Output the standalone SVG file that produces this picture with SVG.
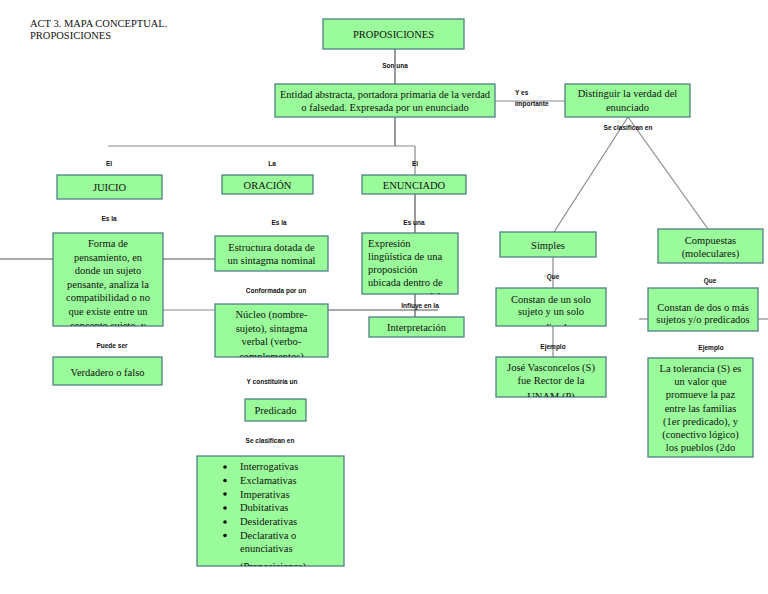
<svg xmlns="http://www.w3.org/2000/svg" width="768" height="594" viewBox="0 0 768 594">
<style>
.b{fill:#99fb99;stroke:#4d8088;stroke-width:1.3}
.t{font-family:"Liberation Serif","Times New Roman",serif;font-size:10.5px;fill:#111}
.c{text-anchor:middle}
.l{font-family:"Liberation Sans",Arial,sans-serif;font-size:6.5px;font-weight:bold;fill:#111}
.k{stroke:#555;stroke-width:1.2;fill:none}
.g{stroke:#8a8a8a;stroke-width:1.2;fill:none}
</style>
<defs>
<clipPath id="cForma"><rect x="53" y="233" width="110" height="93"/></clipPath>
<clipPath id="cNucleo"><rect x="215" y="304" width="113" height="53"/></clipPath>
<clipPath id="cExpr"><rect x="362" y="233" width="96" height="61"/></clipPath>
<clipPath id="cLista"><rect x="197" y="456" width="147" height="110"/></clipPath>
<clipPath id="cConst1"><rect x="496" y="288" width="110" height="38"/></clipPath>
<clipPath id="cJose"><rect x="496" y="357" width="110" height="40"/></clipPath>
</defs>
<rect width="768" height="594" fill="#fff"/>
<text class="t" x="30" y="27">ACT 3. MAPA CONCEPTUAL.</text>
<text class="t" x="30" y="39">PROPOSICIONES</text>

<g id="connectors">
<line class="k" x1="395" y1="49" x2="395" y2="84"/>
<line class="k" x1="395" y1="117" x2="395" y2="146"/>
<line class="g" x1="108" y1="146" x2="415" y2="146"/>
<line class="g" x1="415" y1="146" x2="415" y2="175"/>
<line class="k" x1="415" y1="194" x2="415" y2="233"/>
<line class="k" x1="415" y1="294" x2="415" y2="317"/>
<line class="g" x1="495" y1="101" x2="565" y2="101"/>
<line class="g" x1="628" y1="117" x2="554" y2="232"/>
<line class="g" x1="628" y1="117" x2="708" y2="229"/>
<line class="g" x1="553" y1="257" x2="553" y2="288"/>
<line class="g" x1="553" y1="326" x2="553" y2="357"/>
<line class="k" x1="0" y1="259" x2="53" y2="259"/>
<line class="k" x1="163" y1="259" x2="215" y2="259"/>
<line class="g" x1="163" y1="310" x2="215" y2="310"/>
<line class="k" x1="328" y1="310" x2="438" y2="310"/>
<line class="g" x1="639" y1="319" x2="648" y2="319"/>
<line class="g" x1="758" y1="319" x2="768" y2="319"/>
</g>

<g id="labels">
<text class="l c" x="395" y="68">Son una</text>
<text class="l" x="515" y="95">Y es</text>
<text class="l" x="515" y="106">importante</text>
<text class="l c" x="628" y="130">Se clasifican en</text>
<text class="l c" x="109" y="166">El</text>
<text class="l c" x="272" y="166">La</text>
<text class="l c" x="415" y="166">El</text>
<text class="l c" x="109" y="221">Es la</text>
<text class="l c" x="279" y="225">Es la</text>
<text class="l c" x="414" y="225">Es una</text>
<text class="l c" x="276" y="293">Conformada por un</text>
<text class="l c" x="420" y="308">Influye en la</text>
<text class="l c" x="553" y="279">Que</text>
<text class="l c" x="710" y="283">Que</text>
<text class="l c" x="553" y="349">Ejemplo</text>
<text class="l c" x="711" y="350">Ejemplo</text>
<text class="l c" x="112" y="348">Puede ser</text>
<text class="l c" x="272" y="384">Y constituiría un</text>
<text class="l c" x="270" y="443">Se clasifican en</text>
</g>

<g id="proposiciones">
<rect class="b" x="323" y="19" width="141" height="30"/>
<text class="t c" x="393.5" y="38">PROPOSICIONES</text>
</g>
<g id="entidad">
<rect class="b" x="275" y="84" width="220" height="33"/>
<text class="t c" x="385" y="98">Entidad abstracta, portadora primaria de la verdad</text>
<text class="t c" x="385" y="110.5">o falsedad. Expresada por un enunciado</text>
</g>
<g id="distinguir">
<rect class="b" x="565" y="84" width="125" height="33"/>
<text class="t c" x="627.5" y="97">Distinguir la verdad del</text>
<text class="t c" x="627.5" y="111">enunciado</text>
</g>
<g id="juicio">
<rect class="b" x="57" y="175" width="105" height="24"/>
<text class="t c" x="109.5" y="191">JUICIO</text>
</g>
<g id="oracion">
<rect class="b" x="222" y="175" width="91" height="19"/>
<text class="t c" x="267.5" y="189">ORACIÓN</text>
</g>
<g id="enunciado">
<rect class="b" x="362" y="175" width="104" height="19"/>
<text class="t c" x="414" y="189">ENUNCIADO</text>
</g>
<g id="forma">
<rect class="b" x="53" y="233" width="110" height="93"/>
<g clip-path="url(#cForma)">
<text class="t c" x="108" y="247">Forma de</text>
<text class="t c" x="108" y="260.5">pensamiento, en</text>
<text class="t c" x="108" y="274">donde un sujeto</text>
<text class="t c" x="108" y="287.5">pensante, analiza la</text>
<text class="t c" x="108" y="301">compatibilidad o no</text>
<text class="t c" x="108" y="314.5">que existe entre un</text>
<text class="t c" x="108" y="329">concepto sujeto, y</text>
</g>
</g>
<g id="estructura">
<rect class="b" x="215" y="236" width="113" height="35"/>
<text class="t c" x="271.5" y="251">Estructura dotada de</text>
<text class="t c" x="271.5" y="264">un sintagma nominal</text>
</g>
<g id="nucleo">
<rect class="b" x="215" y="304" width="113" height="53"/>
<g clip-path="url(#cNucleo)">
<text class="t c" x="271.5" y="318">Núcleo (nombre-</text>
<text class="t c" x="271.5" y="331.5">sujeto), sintagma</text>
<text class="t c" x="271.5" y="345">verbal (verbo-</text>
<text class="t c" x="271.5" y="359.5">complementos)</text>
</g>
</g>
<g id="expresion">
<rect class="b" x="362" y="233" width="96" height="61"/>
<g clip-path="url(#cExpr)">
<text class="t" x="368" y="247">Expresión</text>
<text class="t" x="368" y="260">lingüística de una</text>
<text class="t" x="368" y="273">proposición</text>
<text class="t" x="368" y="285.5">ubicada dentro de</text>
<text class="t" x="368" y="299.5">un contexto y del</text>
</g>
</g>
<g id="interpretacion">
<rect class="b" x="369" y="317" width="95" height="20"/>
<text class="t c" x="416.5" y="331">Interpretación</text>
</g>
<g id="verdadero">
<rect class="b" x="53" y="357" width="109" height="28"/>
<text class="t c" x="107.5" y="375.5">Verdadero o falso</text>
</g>
<g id="predicado">
<rect class="b" x="245" y="399" width="61" height="22"/>
<text class="t c" x="275.5" y="414">Predicado</text>
</g>
<g id="lista">
<rect class="b" x="197" y="456" width="147" height="110"/>
<g clip-path="url(#cLista)">
<g fill="#111">
<circle cx="225" cy="467" r="1.8"/>
<circle cx="225" cy="480.5" r="1.8"/>
<circle cx="225" cy="494" r="1.8"/>
<circle cx="225" cy="508" r="1.8"/>
<circle cx="225" cy="522" r="1.8"/>
<circle cx="225" cy="535.5" r="1.8"/>
</g>
<text class="t" x="240" y="470">Interrogativas</text>
<text class="t" x="240" y="484">Exclamativas</text>
<text class="t" x="240" y="497.5">Imperativas</text>
<text class="t" x="240" y="511">Dubitativas</text>
<text class="t" x="240" y="525">Desiderativas</text>
<text class="t" x="240" y="538.5">Declarativa o</text>
<text class="t" x="240" y="552">enunciativas</text>
<text class="t" x="240" y="570">(Proposiciones)</text>
</g>
</g>
<g id="simples">
<rect class="b" x="500" y="232" width="96" height="25"/>
<text class="t c" x="548" y="248.5">Simples</text>
</g>
<g id="compuestas">
<rect class="b" x="658" y="229" width="105" height="34"/>
<text class="t c" x="710.5" y="244">Compuestas</text>
<text class="t c" x="710.5" y="257">(moleculares)</text>
</g>
<g id="constan1">
<rect class="b" x="496" y="288" width="110" height="38"/>
<g clip-path="url(#cConst1)">
<text class="t c" x="551" y="302.5">Constan de un solo</text>
<text class="t c" x="551" y="314.5">sujeto y un solo</text>
<text class="t c" x="551" y="331">predicado</text>
</g>
</g>
<g id="constan2">
<rect class="b" x="648" y="288" width="110" height="43"/>
<text class="t c" x="703" y="310.5">Constan de dos o más</text>
<text class="t c" x="703" y="322.5">sujetos y/o predicados</text>
</g>
<g id="jose">
<rect class="b" x="496" y="357" width="110" height="40"/>
<g clip-path="url(#cJose)">
<text class="t c" x="551" y="371">José Vasconcelos (S)</text>
<text class="t c" x="551" y="384">fue Rector de la</text>
<text class="t c" x="551" y="400">UNAM (P)</text>
</g>
</g>
<g id="tolerancia">
<rect class="b" x="648" y="358" width="105" height="99"/>
<text class="t c" x="700.5" y="371.5">La tolerancia (S) es</text>
<text class="t c" x="700.5" y="385">un valor que</text>
<text class="t c" x="700.5" y="398">promueve la paz</text>
<text class="t c" x="700.5" y="411.5">entre las familias</text>
<text class="t c" x="700.5" y="425">(1er predicado), y</text>
<text class="t c" x="700.5" y="437.5">(conectivo lógico)</text>
<text class="t c" x="700.5" y="450.5">los pueblos (2do</text>
</g>
</svg>
